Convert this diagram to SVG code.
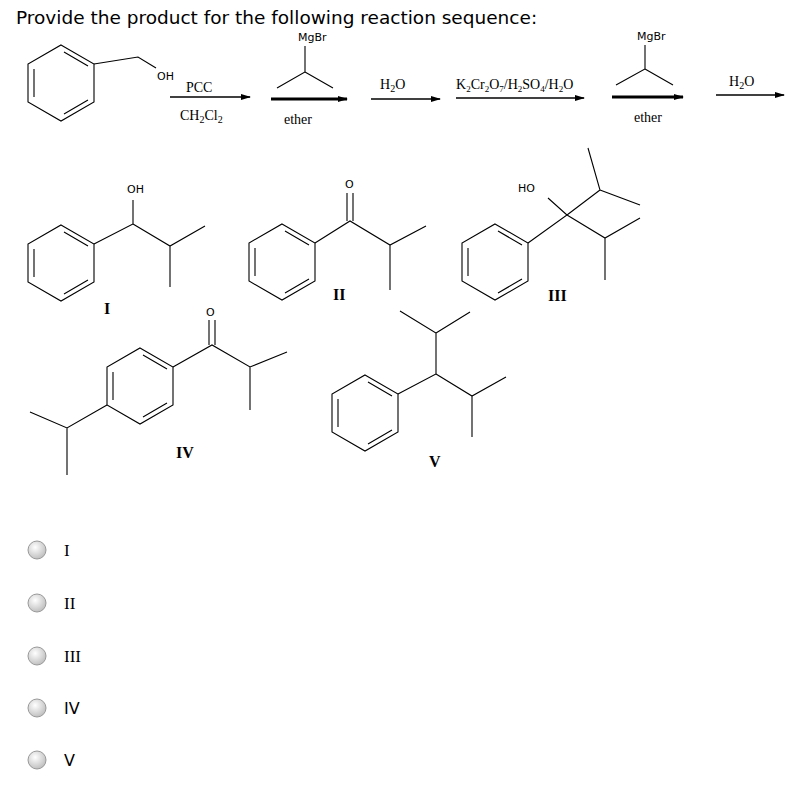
<svg xmlns="http://www.w3.org/2000/svg" width="802" height="802" viewBox="0 0 802 802">
<style>
.b{stroke:#000;stroke-width:1.1;fill:none}
.ar{stroke:#000;stroke-width:1.5;fill:none}
.ak{stroke:#000;stroke-width:3;fill:none}
.s{font-family:'DejaVu Sans',sans-serif;font-size:11px;fill:#000}
.t{font-family:'Liberation Serif',serif;font-size:14px;fill:#000}
.lab{font-family:'Liberation Serif',serif;font-size:16px;font-weight:bold;fill:#000}
.opt{font-family:'Liberation Serif',serif;font-size:17px;fill:#000}
.opts{font-family:'DejaVu Sans',sans-serif;font-size:16px;fill:#000}
</style>
<defs>
<symbol id="bz" overflow="visible">
<path class="b" d="M0,-38L33,-19L33,19L0,38L-33,19L-33,-19Z M-27,-14L-27,14 M3,-31L27,-17 M27,17L3,31"/>
</symbol>
<marker id="ah" markerWidth="10" markerHeight="6" refX="9" refY="3" orient="auto" markerUnits="userSpaceOnUse"><path d="M0,0L10,3L0,6Z" fill="#000"/></marker>
<radialGradient id="rg" cx="0.4" cy="0.35" r="0.7"><stop offset="0" stop-color="#fff"/><stop offset="1" stop-color="#bbb"/></radialGradient>
</defs>
<rect width="802" height="802" fill="#fff"/>
<text x="16" y="24" font-family="'DejaVu Sans',sans-serif" font-size="18.5" fill="#000">Provide the product for the following reaction sequence:</text>

<g id="start">
<use href="#bz" x="61" y="83"/>
<path class="b" d="M94,64L138,57L156,68"/>
<text class="s" x="157" y="80">OH</text>
</g>
<g id="reagents">
<text class="t" x="186" y="92">PCC</text>
<text class="t" x="180" y="120">CH<tspan font-size="10" dy="3">2</tspan><tspan dy="-3">Cl</tspan><tspan font-size="10" dy="3">2</tspan></text>
<text class="s" x="298" y="41">MgBr</text>
<path class="b" d="M305,46L305,72L277,88M305,72L333,88"/>
<text class="t" x="284" y="124" font-size="13">ether</text>
<text class="t" x="380" y="89">H<tspan font-size="10" dy="3">2</tspan><tspan dy="-3">O</tspan></text>
<text class="t" x="456" y="89" font-size="13">K<tspan font-size="9" dy="3">2</tspan><tspan dy="-3">Cr</tspan><tspan font-size="9" dy="3">2</tspan><tspan dy="-3">O</tspan><tspan font-size="9" dy="3">7</tspan><tspan dy="-3">/H</tspan><tspan font-size="9" dy="3">2</tspan><tspan dy="-3">SO</tspan><tspan font-size="9" dy="3">4</tspan><tspan dy="-3">/H</tspan><tspan font-size="9" dy="3">2</tspan><tspan dy="-3">O</tspan></text>
<text class="s" x="637" y="40">MgBr</text>
<path class="b" d="M645,45L645,69L616,85M645,69L673,85"/>
<text class="t" x="634" y="122" font-size="13">ether</text>
<text class="t" x="729" y="86">H<tspan font-size="10" dy="3">2</tspan><tspan dy="-3">O</tspan></text>
</g>
<g id="arrows">
<path class="ar" d="M170,97L250,97" marker-end="url(#ah)"/>
<path class="ak" d="M271,99L347,99" marker-end="url(#ah)"/>
<path class="ar" d="M371,99L440,99" marker-end="url(#ah)"/>
<path class="ar" d="M456,98L584,98" marker-end="url(#ah)"/>
<path class="ak" d="M612,97L683,97" marker-end="url(#ah)"/>
<path class="ar" d="M716,95L784,95" marker-end="url(#ah)"/>
</g>

<g id="I">
<use href="#bz" x="61" y="263"/>
<path class="b" d="M94,244L133,224L133,200M133,224L170,246L205,226M170,246L170,287"/>
<text class="s" x="127" y="193">OH</text>
<text class="lab" x="104" y="314">I</text>
</g>
<g id="II">
<use href="#bz" x="282" y="262"/>
<path class="b" d="M315,243L350,221L390,245L426,226M390,245L390,290M347,221L347,193M353,221L353,193"/>
<text class="s" x="345" y="188">O</text>
<text class="lab" x="333" y="300">II</text>
</g>
<g id="III">
<use href="#bz" x="495" y="262"/>
<path class="b" d="M528,243L567,215L548,198M567,215L600,190L588,148M600,190L640,205M567,215L605,238L640,218M605,238L605,280"/>
<text class="s" x="518" y="192">HO</text>
<text class="lab" x="548" y="301">III</text>
</g>
<g id="IV">
<use href="#bz" x="140" y="386"/>
<path class="b" d="M173,367L212,345L250,367L287,352M250,367L250,410M209,345L209,320M215,345L215,320M107,405L67,428L30,412M67,428L67,475"/>
<text class="s" x="206" y="316">O</text>
<text class="lab" x="176" y="458">IV</text>
</g>
<g id="V">
<use href="#bz" x="365" y="413"/>
<path class="b" d="M398,394L436,374L436,333L400,311M436,333L470,312M436,374L472,396L506,377M472,396L472,437"/>
<text class="lab" x="429" y="467">V</text>
</g>

<g id="options">
<circle cx="37" cy="550" r="9" fill="url(#rg)" stroke="#999"/>
<circle cx="37" cy="603" r="9" fill="url(#rg)" stroke="#999"/>
<circle cx="37" cy="656" r="9" fill="url(#rg)" stroke="#999"/>
<circle cx="37" cy="708" r="9" fill="url(#rg)" stroke="#999"/>
<circle cx="37" cy="760" r="9" fill="url(#rg)" stroke="#999"/>
<text class="opt" x="64" y="556">I</text>
<text class="opt" x="64" y="609">II</text>
<text class="opt" x="64" y="662">III</text>
<text class="opts" x="64" y="714">IV</text>
<text class="opts" x="64" y="766">V</text>
</g>
</svg>
